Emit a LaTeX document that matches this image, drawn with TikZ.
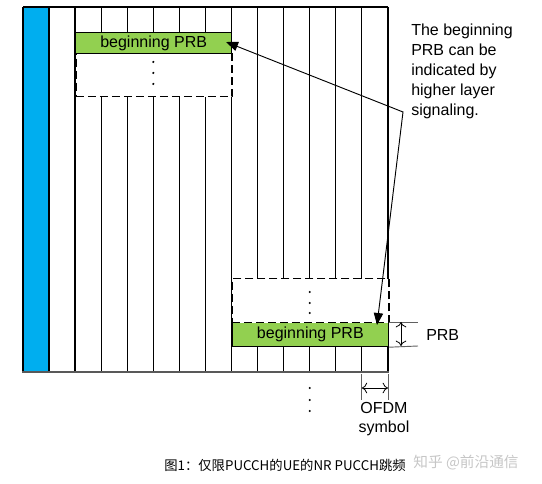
\documentclass[tikz,border=0pt]{standalone}
\usepackage{fontspec}
\setmainfont{Liberation Sans}
\newfontfamily\cjk{Noto Sans CJK SC}
\usetikzlibrary{arrows.meta}
\definecolor{stripblue}{RGB}{0,174,239}
\definecolor{prbgreen}{RGB}{146,208,80}
\begin{document}
\begin{tikzpicture}[x=0.75pt,y=-0.75pt,
  font=\fontsize{12}{15}\selectfont,
  gridline/.style={line width=0.9pt},
  greenbox/.style={draw, fill=prbgreen, line width=0.9pt, inner sep=0pt, anchor=north west, minimum width=117pt},
  dashbox/.style={draw, dash pattern=on 6pt off 3pt, fill=white, line width=1.1pt, inner sep=0pt, anchor=north west, minimum width=117pt},
  dimline/.style={draw=gray!75!black, line width=0.7pt},
  dimarrow/.style={{To[length=4pt,width=8pt]}-{To[length=4pt,width=8pt]}, line width=0.6pt},
  pointer/.style={{Triangle[length=9pt,width=7pt]}-{Triangle[length=9pt,width=7pt]}, line width=0.7pt},
  dotmark/.style={fill=black, circle, inner sep=0pt, minimum size=1.8pt}
]
\useasboundingbox (0,0) rectangle (542,484);
% grid
\fill[stripblue] (23,7) rectangle (49,372);
\draw[gridline] (23,7) -- (23,372);
\foreach \i in {0,...,13}{
  \draw[gridline] ({49+26.07*\i},7) -- ({49+26.07*\i},372);
}
\draw[gridline] (23,7) -- (388,7);
\draw[line width=1.4pt, gray!70!black] (22,372) -- (389,372);

% upper PRB region
\node[greenbox, minimum height=15.75pt] (g1) at (75.07,32) {beginning PRB};
\node[dashbox, minimum height=32.25pt] (d1) at (75.07,53) {};
\foreach \y in {62,73,84}{ \node[dotmark] at (153.3,\y) {}; }

% lower PRB region
\node[greenbox, minimum height=18pt, minimum width=117.4pt] (g2) at (231.5,322) {beginning PRB};
\node[dashbox, minimum height=33pt, minimum width=117.4pt] (d2) at (231.5,278) {};
\foreach \y in {292,303,313}{ \node[dotmark] at (309.7,\y) {}; }

% dots below grid
\foreach \y in {388,400,411}{ \node[dotmark] at (309.7,\y) {}; }

% note and pointers
\node[align=left, anchor=north west, inner sep=0pt, font=\fontsize{12}{15}\selectfont] (note) at (411,23.5)
  {The beginning\\PRB can be\\indicated by\\higher layer\\signaling.};
\coordinate (bend) at (403,112);
\coordinate (tipA) at (226,42);
\coordinate (tipB) at (377,325);
\draw[pointer] (tipA) -- (bend) -- (tipB);

% PRB dimension
\coordinate (p1) at (418,322);
\coordinate (p2) at (418,346);
\draw[dimline] (g2.north east) -- (p1);
\draw[dimline] (g2.south east) -- (p2);
\draw[dimarrow] (401,322) -- (401,346);
\node[anchor=west, inner sep=0pt] (prb) at (426,335) {PRB};

% OFDM symbol dimension
\coordinate (o1) at (361.8,374);
\coordinate (o2) at (388,374);
\draw[dimline] (o1) -- ++(0,26);
\draw[dimline] (o2) -- ++(0,26);
\draw[dimarrow] (361.8,388) -- (388,388);
\node[align=center, anchor=north, inner sep=0pt, font=\fontsize{12}{14}\selectfont] (ofdm) at (384,402.5) {OFDM\\symbol};

% caption
\node[font=\cjk\fontsize{10}{12}\selectfont] (cap) at (285,465) {图1：仅限PUCCH的UE的NR PUCCH跳频};
\node[font=\cjk\fontsize{11}{13}\selectfont, text=gray!45] (wm) at (466,463) {知乎 @前沿通信};
\end{tikzpicture}
\end{document}
